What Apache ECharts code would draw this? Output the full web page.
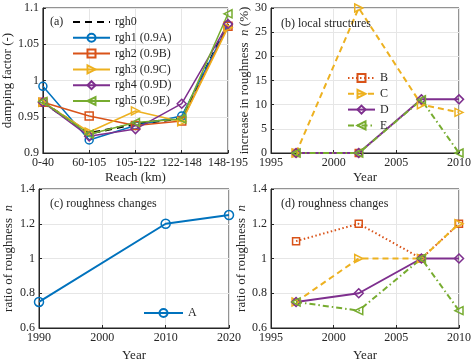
<!DOCTYPE html>
<html><head><meta charset="utf-8">
<script src="https://cdn.jsdelivr.net/npm/echarts@6/dist/echarts.min.js"></script>
<style>html,body{margin:0;padding:0;background:#fff}#c{width:474px;height:363px}</style>
</head><body><div id="c"></div>
<script>
// ---- data ----
const reaches = ['0-40', '60-105', '105-122', '122-148', '148-195'];
const rgh0 = [0.970, 0.927, 0.940, 0.948, 1.078];
const rgh1 = [0.992, 0.918, 0.938, 0.951, 1.076];
const rgh2 = [0.970, 0.951, 0.938, 0.944, 1.075];
const rgh3 = [0.970, 0.929, 0.958, 0.943, 1.073];
const rgh4 = [0.970, 0.923, 0.933, 0.968, 1.078];
const rgh5 = [0.971, 0.926, 0.942, 0.947, 1.092];

const yearsBD = [1997, 2002, 2007, 2010];
const incB = [0, 0, null, null];
const incC = [0, 30, 10, 8.4];
const incD = [0, 0, 11.1, 11.1];
const incE = [0, 0, 11, 0];

const yearsA = [1990, 2010, 2020];
const ratioA = [0.75, 1.2, 1.25];

const ratioB = [1.1, 1.2, 1.0, 1.2];
const ratioC = [0.75, 1.0, 1.0, 1.2];
const ratioD = [0.75, 0.8, 1.0, 1.0];
const ratioE = [0.75, 0.7, 1.0, 0.7];

// ---- styles ----
const FONT = 'Liberation Serif';
const BLUE = '#0072BD', ORANGE = '#D95319', YELLOW = '#EDB120', PURPLE = '#7E2F8E', GREEN = '#77AC30';
const TXT = '#262626';
const CLEAR = 'rgba(255,255,255,0)';
const pair = (xs, ys) => xs.map((x, i) => [x, ys[i]]);

const axLabel = {color: TXT, fontFamily: FONT, fontSize: 12, margin: 4};
const yearLabel = Object.assign({}, axLabel, {formatter: v => String(v)});
const nameStyle = {color: TXT, fontFamily: FONT, fontSize: 13};
const split = {show: true, lineStyle: {color: '#e6e6e6', width: 1}};
const tick = {show: true, inside: true, length: 3, lineStyle: {color: TXT}};
const aLine = {show: true, lineStyle: {color: TXT, width: 1}};

function ln(name, xi, yi, color, data, dash, sym, rot, width, size) {
  const noMark = sym === 'none';
  return {
    type: 'line', name, xAxisIndex: xi, yAxisIndex: yi, data,
    symbol: sym, symbolRotate: rot || 0, symbolSize: size || 8, showSymbol: true,
    clip: false, connectNulls: false,
    lineStyle: {color, width: width || 1.5, type: dash},
    itemStyle: {color: CLEAR, borderColor: noMark ? CLEAR : color, borderWidth: noMark ? 0 : 1.5}
  };
}

const richN = (pre, post) => ({
  name: '{a|' + pre + '}{i|n}{a|' + post + '}',
  nameTextStyle: {color: TXT, fontFamily: FONT, fontSize: 13,
    rich: {a: {fontFamily: FONT, fontSize: 13, color: TXT}, i: {fontFamily: FONT, fontSize: 13, fontStyle: 'italic', color: TXT}}}
});

const DOT = [1.5, 2.5], DASH = [6, 4], DASHDOT = [6, 3, 1.5, 3];
const ttl = (text, left, top) => ({text, left, top, textStyle: {fontFamily: FONT, fontSize: 12, fontWeight: 'normal', color: TXT}});
const lgText = {fontFamily: FONT, fontSize: 12, color: TXT};

const option = {
  animation: false,
  backgroundColor: '#fff',
  textStyle: {fontFamily: FONT},
  title: [
    ttl('(a)', 45, 11),
    ttl('(b) local structures', 276, 13),
    ttl('(c) roughness changes', 45, 193),
    ttl('(d) roughness changes', 276, 193)
  ],
  legend: [
    {data: ['rgh0', 'rgh1 (0.9A)', 'rgh2 (0.9B)', 'rgh3 (0.9C)', 'rgh4 (0.9D)', 'rgh5 (0.9E)'],
     orient: 'vertical', left: 67, top: 11, itemWidth: 37, itemHeight: 10, itemGap: 3.8, textStyle: lgText},
    {data: ['B', 'C', 'D', 'E'], orient: 'vertical', left: 342, top: 67, itemWidth: 27, itemHeight: 10, itemGap: 3.8, textStyle: lgText},
    {data: ['A'], orient: 'vertical', left: 138, top: 302, itemWidth: 39, itemHeight: 10, textStyle: lgText}
  ],
  grid: [
    {left: 39, top: 8, width: 189, height: 145, show: true, borderColor: TXT, borderWidth: 1},
    {left: 271, top: 8, width: 191, height: 145, show: true, borderColor: TXT, borderWidth: 1},
    {left: 39, top: 189, width: 190, height: 144, show: true, borderColor: TXT, borderWidth: 1},
    {left: 271, top: 189, width: 192, height: 144, show: true, borderColor: TXT, borderWidth: 1}
  ],
  xAxis: [
    {gridIndex: 0, type: 'category', data: reaches, boundaryGap: false, axisLabel: Object.assign({}, axLabel, {interval: 0}),
     axisTick: Object.assign({}, tick, {interval: 0}), axisLine: aLine, splitLine: Object.assign({}, split, {interval: 0}),
     name: 'Reach (km)', nameLocation: 'middle', nameGap: 18, nameTextStyle: nameStyle},
    {gridIndex: 1, type: 'value', min: 1995, max: 2010, interval: 5, axisLabel: yearLabel, axisTick: tick, axisLine: aLine, splitLine: split,
     name: 'Year', nameLocation: 'middle', nameGap: 18, nameTextStyle: nameStyle},
    {gridIndex: 2, type: 'value', min: 1990, max: 2020, interval: 10, axisLabel: yearLabel, axisTick: tick, axisLine: aLine, splitLine: split,
     name: 'Year', nameLocation: 'middle', nameGap: 21, nameTextStyle: nameStyle},
    {gridIndex: 3, type: 'value', min: 1995, max: 2010, interval: 5, axisLabel: yearLabel, axisTick: tick, axisLine: aLine, splitLine: split,
     name: 'Year', nameLocation: 'middle', nameGap: 21, nameTextStyle: nameStyle}
  ],
  yAxis: [
    {gridIndex: 0, type: 'value', min: 0.9, max: 1.1, interval: 0.05, axisLabel: axLabel, axisTick: tick, axisLine: aLine, splitLine: split,
     name: 'damping factor (-)', nameLocation: 'middle', nameGap: 25, nameTextStyle: nameStyle},
    Object.assign({gridIndex: 1, type: 'value', min: 0, max: 30, interval: 5, axisLabel: axLabel, axisTick: tick, axisLine: aLine, splitLine: split,
     nameLocation: 'middle', nameGap: 19}, richN('increase in roughness  ', ' (%)')),
    Object.assign({gridIndex: 2, type: 'value', min: 0.6, max: 1.4, interval: 0.2, axisLabel: axLabel, axisTick: tick, axisLine: aLine, splitLine: split,
     nameLocation: 'middle', nameGap: 24}, richN('ratio of roughness  ', '')),
    Object.assign({gridIndex: 3, type: 'value', min: 0.6, max: 1.4, interval: 0.2, axisLabel: axLabel, axisTick: tick, axisLine: aLine, splitLine: split,
     nameLocation: 'middle', nameGap: 19}, richN('ratio of roughness  ', ''))
  ],
  series: [
    ln('rgh0', 0, 0, '#000000', rgh0, [7, 5], 'none', 0, 2.5),
    ln('rgh1 (0.9A)', 0, 0, BLUE, rgh1, 'solid', 'circle'),
    ln('rgh2 (0.9B)', 0, 0, ORANGE, rgh2, 'solid', 'rect'),
    ln('rgh3 (0.9C)', 0, 0, YELLOW, rgh3, 'solid', 'triangle', -90),
    ln('rgh4 (0.9D)', 0, 0, PURPLE, rgh4, 'solid', 'diamond', 0, 1.5, 9),
    ln('rgh5 (0.9E)', 0, 0, GREEN, rgh5, 'solid', 'triangle', 90),

    ln('B', 1, 1, ORANGE, pair(yearsBD, incB), DOT, 'rect', 0, 2, 7),
    ln('C', 1, 1, YELLOW, pair(yearsBD, incC), DASH, 'triangle', -90, 2),
    ln('D', 1, 1, PURPLE, pair(yearsBD, incD), 'solid', 'diamond', 0, 2, 9),
    ln('E', 1, 1, GREEN, pair(yearsBD, incE), DASHDOT, 'triangle', 90, 2),

    ln('A', 2, 2, BLUE, pair(yearsA, ratioA), 'solid', 'circle', 0, 2, 9),

    ln('B', 3, 3, ORANGE, pair(yearsBD, ratioB), DOT, 'rect', 0, 2, 7),
    ln('C', 3, 3, YELLOW, pair(yearsBD, ratioC), DASH, 'triangle', -90, 2),
    ln('D', 3, 3, PURPLE, pair(yearsBD, ratioD), 'solid', 'diamond', 0, 2, 9),
    ln('E', 3, 3, GREEN, pair(yearsBD, ratioE), DASHDOT, 'triangle', 90, 2)
  ]
};
const chart = echarts.init(document.getElementById('c'), null, {renderer: 'canvas'});
chart.setOption(option);
</script></body></html>
